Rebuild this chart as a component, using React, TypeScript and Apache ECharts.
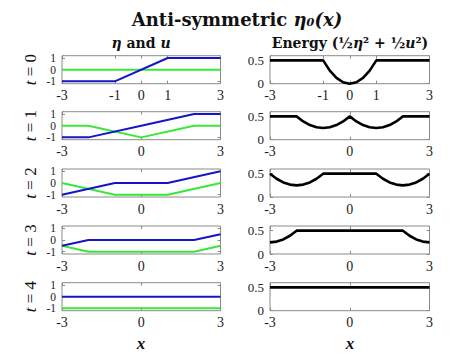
import React, { useEffect, useRef } from "react";
import * as echarts from "echarts";

// time labels
const times = ["0", "1", "2", "3", "4"];

// eta and u breakpoints (piecewise linear) per time
const breakX0 = [-3, -1, 1, 3];
const eta0 = [-1, -1, 1, 1];
const u0 = [0, 0, 0, 0];

const breakX1 = [-3, -2, 0, 2, 3];
const eta1 = [-1, -1, 0, 1, 1];
const u1 = [0, 0, -1, 0, 0];

const breakX2 = [-3, -1, 1, 3];
const eta2 = [-1, 0, 0, 1];
const u2 = [0, -1, -1, 0];

const breakX3 = [-3, -2, 2, 3];
const eta3 = [-0.5, 0, 0, 0.5];
const u3 = [-0.5, -1, -1, -0.5];

const breakX4 = [-3, 3];
const eta4 = [0, 0];
const u4 = [-1, -1];

// energy samples
const energyX = [-3, -2.75, -2.5, -2.25, -2, -1.75, -1.5, -1.25, -1, -0.75, -0.5, -0.25, 0, 0.25, 0.5, 0.75, 1, 1.25, 1.5, 1.75, 2, 2.25, 2.5, 2.75, 3];
const energy0 = [0.5, 0.5, 0.5, 0.5, 0.5, 0.5, 0.5, 0.5, 0.5, 0.281, 0.125, 0.031, 0, 0.031, 0.125, 0.281, 0.5, 0.5, 0.5, 0.5, 0.5, 0.5, 0.5, 0.5, 0.5];
const energy1 = [0.5, 0.5, 0.5, 0.5, 0.5, 0.391, 0.313, 0.266, 0.25, 0.266, 0.313, 0.391, 0.5, 0.391, 0.313, 0.266, 0.25, 0.266, 0.313, 0.391, 0.5, 0.5, 0.5, 0.5, 0.5];
const energy2 = [0.5, 0.391, 0.313, 0.266, 0.25, 0.266, 0.313, 0.391, 0.5, 0.5, 0.5, 0.5, 0.5, 0.5, 0.5, 0.5, 0.5, 0.391, 0.313, 0.266, 0.25, 0.266, 0.313, 0.391, 0.5];
const energy3 = [0.25, 0.266, 0.313, 0.391, 0.5, 0.5, 0.5, 0.5, 0.5, 0.5, 0.5, 0.5, 0.5, 0.5, 0.5, 0.5, 0.5, 0.5, 0.5, 0.5, 0.5, 0.391, 0.313, 0.266, 0.25];
const energy4 = [0.5, 0.5, 0.5, 0.5, 0.5, 0.5, 0.5, 0.5, 0.5, 0.5, 0.5, 0.5, 0.5, 0.5, 0.5, 0.5, 0.5, 0.5, 0.5, 0.5, 0.5, 0.5, 0.5, 0.5, 0.5];

// tick values
const xTicksFirst = [-3, -1, 0, 1, 3];
const xTicksOther = [-3, 0, 3];
const etaTicks = [-1, 0, 1];
const energyTicks = [0, 0.5];

const breakXs = [breakX0, breakX1, breakX2, breakX3, breakX4];
const etas = [eta0, eta1, eta2, eta3, eta4];
const us = [u0, u1, u2, u3, u4];
const energies = [energy0, energy1, energy2, energy3, energy4];

const SERIF = "'Liberation Serif', 'DejaVu Serif', serif";
const WIDE = "'DejaVu Serif', 'Liberation Serif', serif";
const BLUE = "#1414c8";
const GREEN = "#38e838";
const AXIS = "#8a8a8a";

const pairs = (xs: number[], ys: number[]) => xs.map((x, i) => [x, ys[i]]);

export default function App() {
  const ref = useRef<HTMLDivElement>(null);
  useEffect(() => {
    if (!ref.current) return;
    const chart = echarts.init(ref.current, null, { renderer: "svg" });
    const tops = [55.7, 111.7, 169, 226, 282.7];
    const H = 28;
    const cols = [
      { left: 62, width: 158.5 },
      { left: 270, width: 159.5 },
    ];
    const grid: any[] = [];
    const xAxis: any[] = [];
    const yAxis: any[] = [];
    const series: any[] = [];
    const graphic: any[] = [];
    let gi = 0;
    const tickStyle = { show: true, inside: true, length: 3, lineStyle: { color: AXIS, width: 1 } };
    const line = { show: false, onZero: false };
    times.forEach((t, r) => {
      cols.forEach((c, ci) => {
        grid.push({
          left: c.left,
          top: tops[r],
          width: c.width,
          height: H,
          show: true,
          borderColor: AXIS,
          borderWidth: 1,
          backgroundColor: "#fff",
        });
        const xt = r === 0 ? xTicksFirst : xTicksOther;
        const yt = ci === 0 ? etaTicks : energyTicks;
        const ymin = ci === 0 ? -1.2 : 0;
        const ymax = ci === 0 ? 1.2 : 0.6;
        const xi = xAxis.length;
        xAxis.push({
          type: "value",
          gridIndex: gi,
          min: -3,
          max: 3,
          position: "bottom",
          axisLine: line,
          splitLine: { show: false },
          axisTick: { ...tickStyle, customValues: xt },
          axisLabel: {
            customValues: xt,
            hideOverlap: false,
            fontFamily: SERIF,
            fontSize: 14,
            color: "#222",
            margin: 5,
            formatter: (v: number) => String(v),
          },
        });
        xAxis.push({
          type: "value",
          gridIndex: gi,
          min: -3,
          max: 3,
          position: "top",
          axisLine: line,
          splitLine: { show: false },
          axisTick: { ...tickStyle, customValues: xt },
          axisLabel: { show: false, customValues: xt },
        });
        const yi = yAxis.length;
        yAxis.push({
          type: "value",
          gridIndex: gi,
          min: ymin,
          max: ymax,
          position: "left",
          axisLine: line,
          splitLine: { show: false },
          axisTick: { ...tickStyle, customValues: yt },
          axisLabel: { show: false, customValues: yt },
        });
        yAxis.push({
          type: "value",
          gridIndex: gi,
          min: ymin,
          max: ymax,
          position: "right",
          axisLine: line,
          splitLine: { show: false },
          axisTick: { ...tickStyle, customValues: yt },
          axisLabel: { show: false, customValues: yt },
        });
        // one label-only axis per tick value so that tightly stacked labels all stay visible
        yt.forEach((v) => {
          const pad = ci === 0 ? (v > 0 ? [0, 0, 3, 0] : v < 0 ? [3, 0, 0, 0] : 0) : 0;
          yAxis.push({
            type: "value",
            gridIndex: gi,
            min: ymin,
            max: ymax,
            position: "left",
            axisLine: line,
            splitLine: { show: false },
            axisTick: { show: false },
            axisLabel: {
              customValues: [v],
              fontFamily: SERIF,
              fontSize: ci === 0 ? 11.5 : 13,
              lineHeight: ci === 0 ? 11 : 14,
              padding: pad,
              color: "#222",
              margin: 6,
              formatter: (val: number) => String(val),
            },
          });
        });
        if (ci === 0) {
          series.push({
            type: "line",
            xAxisIndex: xi,
            yAxisIndex: yi,
            data: pairs(breakXs[r], us[r]),
            showSymbol: false,
            lineStyle: { color: GREEN, width: 2 },
            z: 2,
          });
          series.push({
            type: "line",
            xAxisIndex: xi,
            yAxisIndex: yi,
            data: pairs(breakXs[r], etas[r]),
            showSymbol: false,
            lineStyle: { color: BLUE, width: 2 },
            z: 3,
          });
        } else {
          series.push({
            type: "line",
            xAxisIndex: xi,
            yAxisIndex: yi,
            data: pairs(energyX, energies[r]),
            showSymbol: false,
            clip: false,
            lineStyle: { color: "#000", width: 2.6 },
          });
        }
        gi++;
      });
      graphic.push({
        type: "text",
        x: 30,
        y: tops[r] + H / 2,
        rotation: Math.PI / 2,
        style: {
          text: "{i|t} = " + t,
          fontFamily: SERIF,
          fontSize: 17,
          fill: "#111",
          align: "center",
          verticalAlign: "middle",
          rich: { i: { fontStyle: "italic", fontFamily: SERIF, fontSize: 17, fill: "#111" } },
        },
      });
    });
    graphic.push({
      type: "text",
      x: 141,
      y: 43,
      style: {
        text: "{i|η} and {i|u}",
        fontFamily: WIDE,
        fontSize: 14,
        fontWeight: "bold",
        fill: "#111",
        align: "center",
        verticalAlign: "middle",
        rich: { i: { fontStyle: "italic", fontWeight: "bold", fontFamily: WIDE, fontSize: 14, fill: "#111" } },
      },
    });
    graphic.push({
      type: "text",
      x: 350,
      y: 43,
      style: {
        text: "Energy (½{i|η}² + ½{i|u}²)",
        fontFamily: WIDE,
        fontSize: 14,
        fontWeight: "bold",
        fill: "#111",
        align: "center",
        verticalAlign: "middle",
        rich: { i: { fontStyle: "italic", fontWeight: "bold", fontFamily: WIDE, fontSize: 14, fill: "#111" } },
      },
    });
    [141, 350].forEach((cx) => {
      graphic.push({
        type: "text",
        x: cx,
        y: 343,
        style: {
          text: "x",
          fontFamily: SERIF,
          fontSize: 17,
          fontStyle: "italic",
          fontWeight: "bold",
          fill: "#111",
          align: "center",
          verticalAlign: "middle",
        },
      });
    });
    chart.setOption({
      animation: false,
      backgroundColor: "#fff",
      title: {
        text: "Anti-symmetric {i|η₀(x)}",
        left: "center",
        top: 5,
        textStyle: {
          fontFamily: WIDE,
          fontSize: 18,
          fontWeight: "bold",
          color: "#111",
          rich: { i: { fontFamily: WIDE, fontSize: 18, fontWeight: "bold", fontStyle: "italic", color: "#111" } },
        },
      },
      grid,
      xAxis,
      yAxis,
      series,
      graphic,
    });
    return () => chart.dispose();
  }, []);
  return <div ref={ref} style={{ width: 474, height: 360, position: "absolute", left: 0, top: 0 }} />;
}
